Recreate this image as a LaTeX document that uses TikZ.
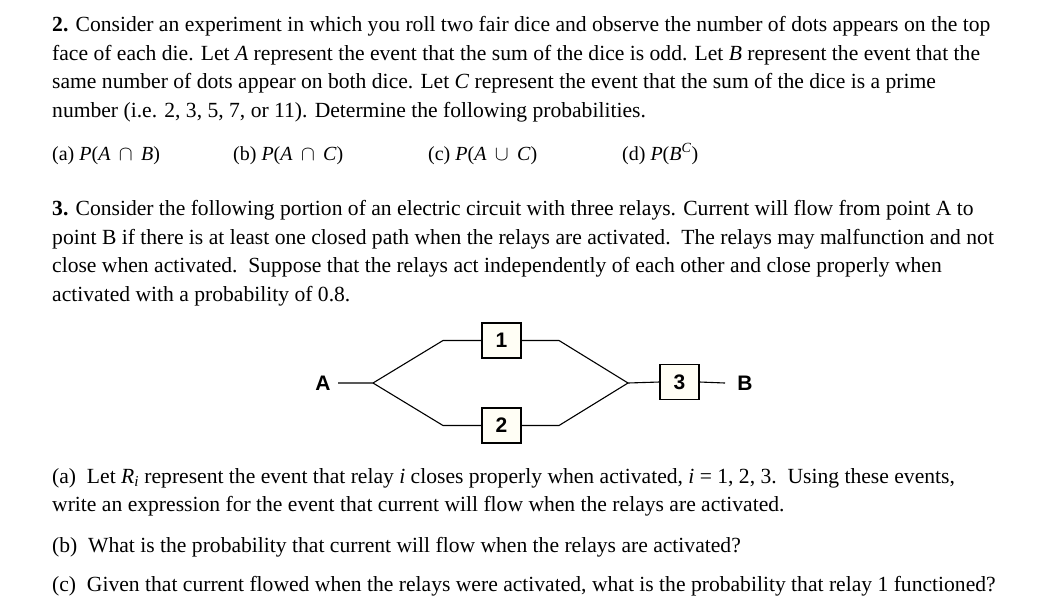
\documentclass[tikz,border=0pt]{standalone}
\usepackage{fontspec}
\setmainfont{Liberation Serif}
\newfontfamily\arialf{Liberation Sans}
\begin{document}
\begin{tikzpicture}[x=1pt,y=-1pt,
  txt/.style={anchor=base west,inner sep=0pt,font=\fontsize{21.6}{25}\selectfont},
  sm/.style={anchor=base west,inner sep=0pt,font=\fontsize{20}{24}\selectfont},
  relay/.style={draw,line width=1.1pt,fill=yellow!4,minimum width=39pt,minimum height=35pt,inner sep=0pt,font=\arialf\bfseries\fontsize{21}{24}\selectfont},
  lbl/.style={inner sep=0pt,font=\arialf\bfseries\fontsize{21}{24}\selectfont},
  wire/.style={line width=1.1pt}]
\useasboundingbox (0,0) rectangle (1064,606);
\node[txt] (l1) at (52,31) {\textbf{2.} Consider an experiment in which you roll two fair dice and observe the number of dots appears on the top};
\node[txt] (l2) at (52,60) {face of each die. Let \textit{A} represent the event that the sum of the dice is odd. Let \textit{B} represent the event that the};
\node[txt] (l3) at (52,88) {same number of dots appear on both dice. Let \textit{C} represent the event that the sum of the dice is a prime};
\node[txt] (l4) at (52,117) {number (i.e. 2, 3, 5, 7, or 11). Determine the following probabilities.};
\node[sm] (pa) at (52,160) {(a) \textit{P}(\textit{A} \,$\cap$\, \textit{B})};
\node[sm] (pb) at (233,160) {(b) \textit{P}(\textit{A} \,$\cap$\, \textit{C})};
\node[sm] (pc) at (428,160) {(c) \textit{P}(\textit{A} \,$\cup$\, \textit{C})};
\node[sm] (pd) at (622,160) {(d) \textit{P}(\textit{B}\textsuperscript{\textit{C}})};
\node[txt] (m1) at (52,215) {\textbf{3.} Consider the following portion of an electric circuit with three relays. Current will flow from point A to};
\node[txt] (m2) at (52,244) {point B if there is at least one closed path when the relays are activated.\ \ The relays may malfunction and not};
\node[txt] (m3) at (52,272) {close when activated.\ \ Suppose that the relays act independently of each other and close properly when};
\node[txt] (m4) at (52,301) {activated with a probability of 0.8.};
% circuit
\node[lbl] (A) at (323,383) {A};
\node[lbl] (B) at (745,383) {B};
\node[relay] (r1) at (501.5,340.5) {1};
\node[relay] (r2) at (501.5,425.5) {2};
\node[relay] (r3) at (679.5,382) {3};
\coordinate (j1) at (373,383);
\coordinate (j2) at (628,383);
\coordinate (u1) at (443,340.5);
\coordinate (u2) at (559,340.5);
\coordinate (d1) at (443,425.5);
\coordinate (d2) at (559,425.5);
\coordinate (aE) at (338,383);
\coordinate (bW) at (725,383);
\draw[wire] (aE) -- (j1) -- (u1) -- (r1.west);
\draw[wire] (j1) -- (d1) -- (r2.west);
\draw[wire] (r1.east) -- (u2) -- (j2);
\draw[wire] (r2.east) -- (d2) -- (j2);
\draw[wire] (j2) -- (r3.west);
\draw[wire] (r3.east) -- (bW);
\node[txt] (q1) at (52,483) {(a)\ \ Let \textit{R\textsubscript{i}} represent the event that relay \textit{i} closes properly when activated, \textit{i} = 1, 2, 3.\ \ Using these events,};
\node[txt] (q2) at (52,511) {write an expression for the event that current will flow when the relays are activated.};
\node[txt] (q3) at (52,552) {(b)\ \ What is the probability that current will flow when the relays are activated?};
\node[txt] (q4) at (52,591) {(c)\ \ Given that current flowed when the relays were activated, what is the probability that relay 1 functioned?};
\end{tikzpicture}
\end{document}
